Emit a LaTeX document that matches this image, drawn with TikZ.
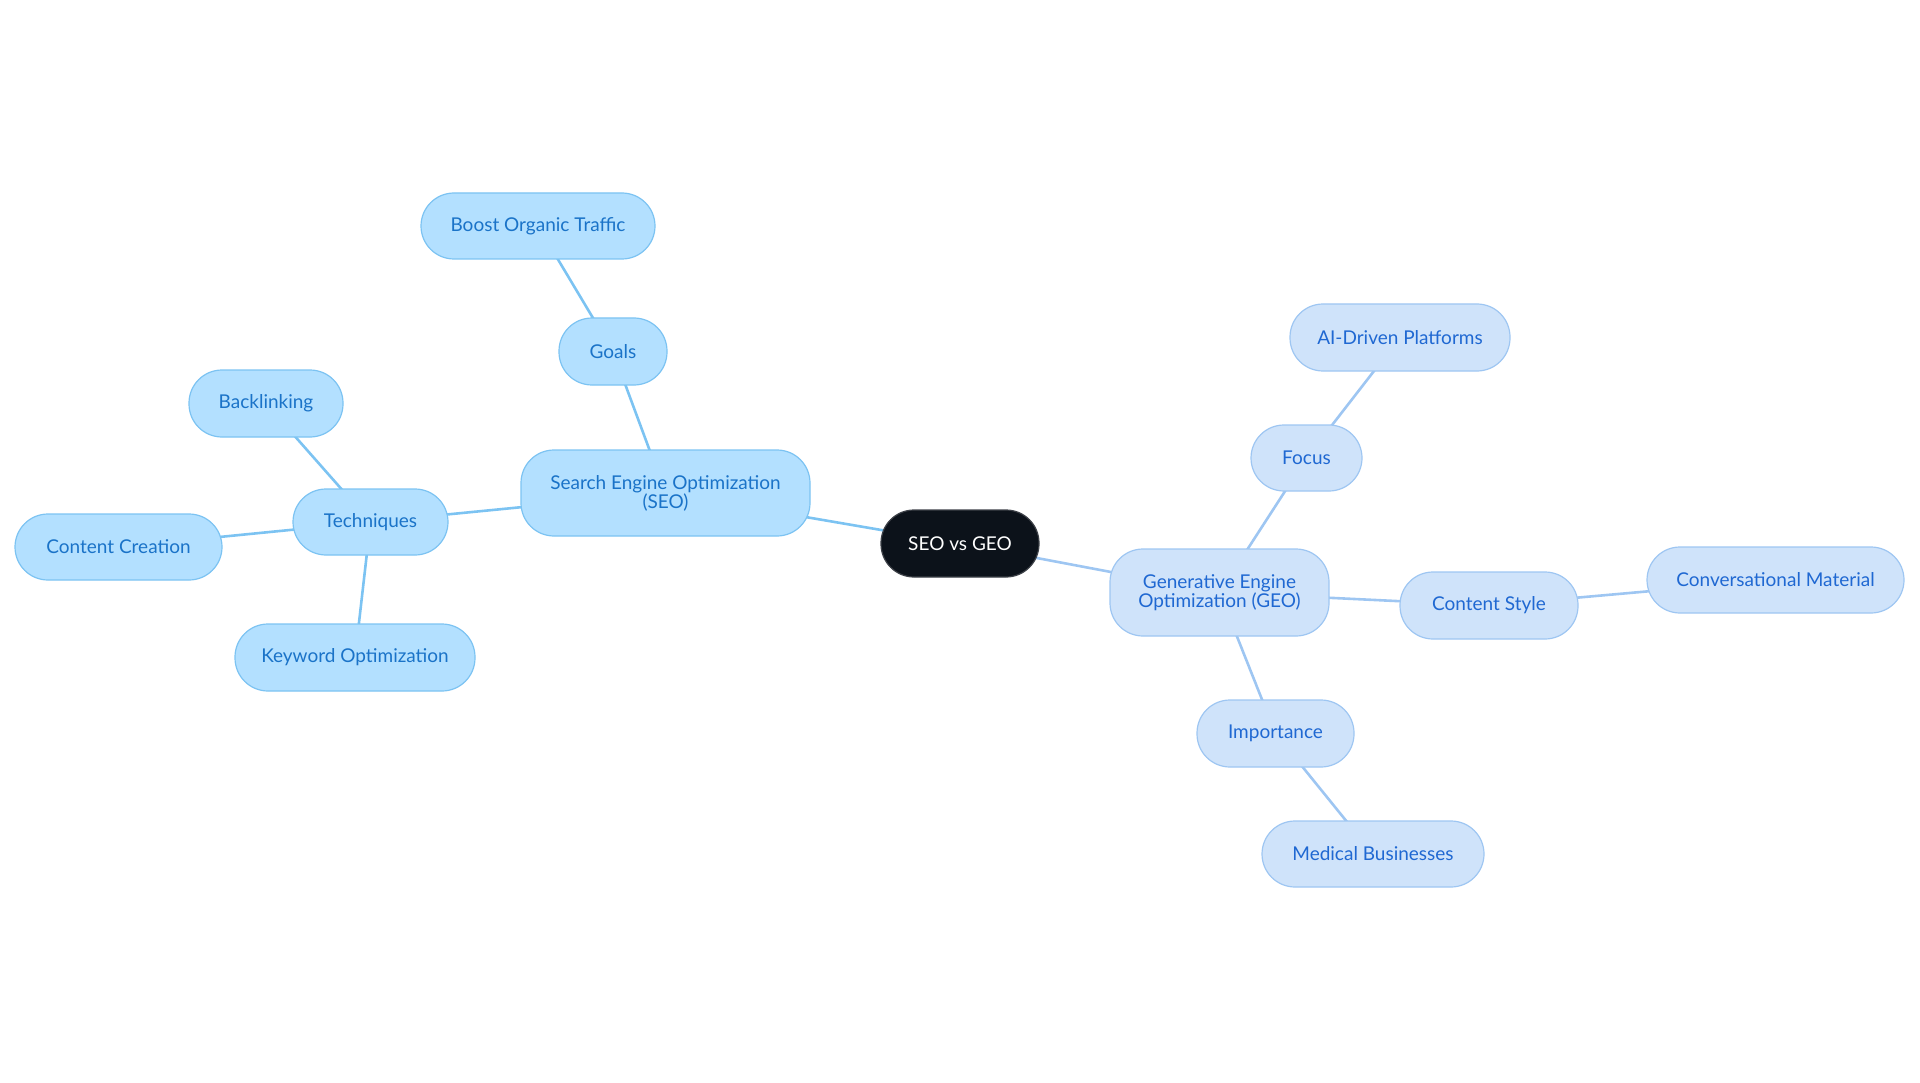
\documentclass[tikz,border=0pt]{standalone}
\usepackage{fontspec}
\setmainfont{Lato}
\usetikzlibrary{backgrounds}
\definecolor{seofill}{HTML}{B3E0FF}
\definecolor{seodraw}{HTML}{7CC3F2}
\definecolor{seotext}{HTML}{1A73C8}
\definecolor{seoline}{HTML}{7CC3F2}
\definecolor{geofill}{HTML}{CFE3FA}
\definecolor{geodraw}{HTML}{9EC6F2}
\definecolor{geotext}{HTML}{1F68D2}
\definecolor{geoline}{HTML}{9EC6F2}
\definecolor{rootfill}{HTML}{0C121A}
\begin{document}
\begin{tikzpicture}[x=1pt,y=-1pt,
  box/.style={rounded corners=33pt, inner sep=0pt, align=center,
    font=\fontsize{19}{18}\selectfont, line width=1.2pt},
  seonode/.style={box, fill=seofill, draw=seodraw, text=seotext},
  geonode/.style={box, fill=geofill, draw=geodraw, text=geotext},
  rootnode/.style={box, fill=rootfill, draw=rootfill!80!white, text=white},
  sz/.style 2 args={minimum width=#1pt, minimum height=#2pt},
  seoedge/.style={draw=seoline, line width=2.6pt},
  geoedge/.style={draw=geoline, line width=2.6pt}]
\useasboundingbox (0,0) rectangle (1920,1083);
% root
\node[rootnode, sz={158}{67}] (root) at (960,543.5) {SEO vs GEO};
% SEO side
\node[seonode, sz={289}{86}] (seo) at (665.5,493) {Search Engine Optimization\\(SEO)};
\node[seonode, sz={108}{67}] (goals) at (613,351.5) {Goals};
\node[seonode, sz={234}{66}] (boost) at (538,226) {Boost Organic Traffic};
\node[seonode, sz={155}{66}] (tech) at (370.5,522) {Techniques};
\node[seonode, sz={154}{67}] (back) at (266,403.5) {Backlinking};
\node[seonode, sz={207}{66}] (ccre) at (118.5,547) {Content Creation};
\node[seonode, sz={240}{67}] (kw) at (355,657.5) {Keyword Optimization};
% GEO side
\node[geonode, sz={219}{87}] (geo) at (1219.5,592.5) {Generative Engine\\Optimization (GEO)};
\node[geonode, sz={111}{66}] (focus) at (1306.5,458) {Focus};
\node[geonode, sz={220}{67}] (ai) at (1400,337.5) {AI-Driven Platforms};
\node[geonode, sz={178}{67}] (cstyle) at (1489,605.5) {Content Style};
\node[geonode, sz={257}{66}] (conv) at (1775.5,580) {Conversational Material};
\node[geonode, sz={157}{67}] (imp) at (1275.5,733.5) {Importance};
\node[geonode, sz={222}{66}] (med) at (1373,854) {Medical Businesses};
% connectors
\begin{scope}[on background layer]
\draw[seoedge] (root.center) -- (seo.center);
\draw[seoedge] (seo.center) -- (goals.center);
\draw[seoedge] (goals.center) -- (boost.center);
\draw[seoedge] (seo.center) -- (tech.center);
\draw[seoedge] (tech.center) -- (back.center);
\draw[seoedge] (tech.center) -- (ccre.center);
\draw[seoedge] (tech.center) -- (kw.center);
\draw[geoedge] (root.center) -- (geo.center);
\draw[geoedge] (geo.center) -- (focus.center);
\draw[geoedge] (focus.center) -- (ai.center);
\draw[geoedge] (geo.center) -- (cstyle.center);
\draw[geoedge] (cstyle.center) -- (conv.center);
\draw[geoedge] (geo.center) -- (imp.center);
\draw[geoedge] (imp.center) -- (med.center);
\end{scope}
\end{tikzpicture}
\end{document}
